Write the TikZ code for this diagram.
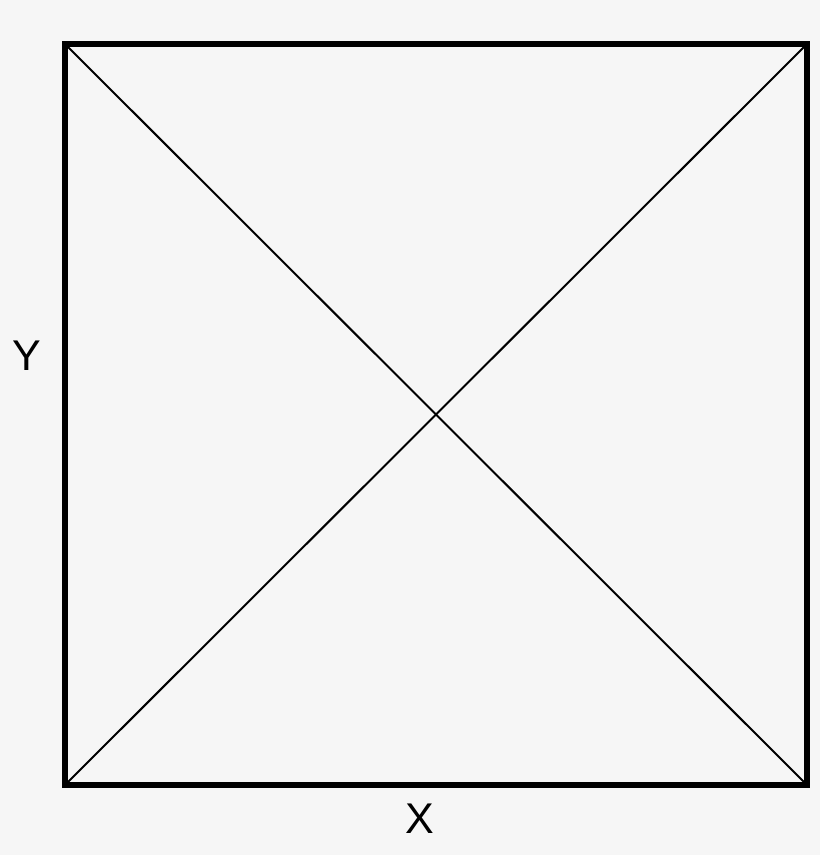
\documentclass[tikz,border=0pt]{standalone}
\usepackage{fontspec}
\setmainfont{Liberation Sans}
\definecolor{bg}{HTML}{F6F6F6}
\begin{document}
\begin{tikzpicture}[x=1pt,y=-1pt,
  frame/.style={line width=6.5pt},
  diag/.style={line width=2pt},
  lab/.style={font=\fontsize{43}{43}\selectfont, inner sep=0pt}]
\fill[bg] (0,0) rectangle (820,855);
\useasboundingbox (0,0) rectangle (820,855);
\coordinate (tl) at (65,44);
\coordinate (tr) at (807,44);
\coordinate (br) at (807,785);
\coordinate (bl) at (65,785);
\draw[diag] (tl) -- (br);
\draw[diag] (bl) -- (tr);
\draw[frame] (tl) -- (tr) -- (br) -- (bl) -- cycle;
\node[lab] (ylab) at (27,356) {Y};
\node[lab] (xlab) at (420,819) {X};
\end{tikzpicture}
\end{document}
